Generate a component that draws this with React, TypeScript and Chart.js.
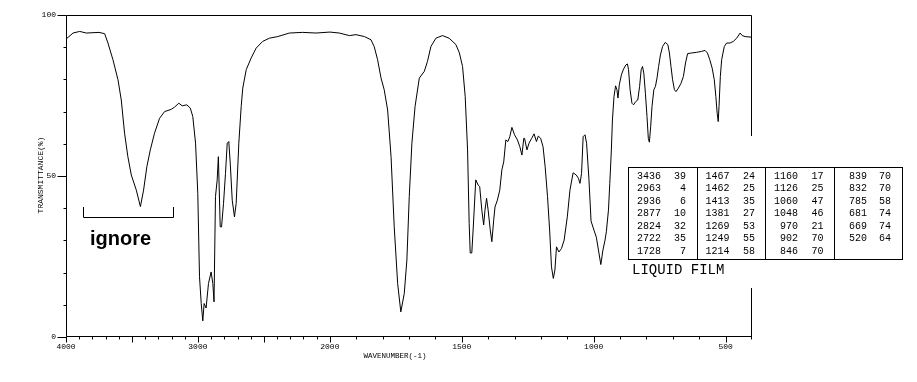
import React, { useEffect, useRef } from "react";
import { Chart, registerables } from "chart.js";

Chart.register(...registerables);

// ---- spectrum data (wavenumber cm-1, transmittance %) ----
const wavenumbers = [
  4000, 3947, 3896, 3846, 3750, 3707, 3682, 3644, 3606, 3581, 3556, 3531, 3505, 3467, 3436, 3412, 3387, 3361, 3329, 3291,
  3253, 3202, 3177, 3145, 3119, 3084, 3058, 3039, 3018, 3001, 2988, 2975, 2963, 2953, 2938, 2920, 2900, 2887, 2878, 2867,
  2854, 2845, 2831, 2821, 2806, 2791, 2778, 2766, 2755, 2740, 2723, 2710, 2690, 2672, 2660, 2634, 2597, 2559, 2509, 2458,
  2395, 2307, 2206, 2105, 2000, 1964, 1926, 1901, 1869, 1844, 1832, 1819, 1806, 1794, 1781, 1768, 1756, 1743, 1731, 1718,
  1708, 1699, 1689, 1677, 1661, 1642, 1630, 1617, 1598, 1573, 1548, 1522, 1509, 1497, 1487, 1478, 1472, 1468, 1462, 1457,
  1447, 1438, 1432, 1424, 1417, 1412, 1406, 1400, 1392, 1386, 1379, 1374, 1365, 1356, 1348, 1341, 1333, 1325, 1318, 1310,
  1300, 1289, 1280, 1272, 1265, 1262, 1253, 1245, 1235, 1226, 1217, 1210, 1201, 1192, 1184, 1175, 1167, 1160, 1153, 1147,
  1141, 1132, 1122, 1112, 1100, 1090, 1078, 1066, 1058, 1052, 1046, 1040, 1033, 1027, 1018, 1010, 999, 990, 982, 973,
  965, 957, 952, 944, 939, 933, 929, 923, 917, 912, 908, 903, 895, 887, 878, 872, 868, 862, 855, 849,
  841, 833, 826, 820, 815, 810, 804, 798, 793, 789, 784, 779, 772, 766, 760, 754, 747, 739, 729, 719,
  713, 707, 701, 694, 688, 679, 669, 660, 652, 644, 629, 610, 591, 578, 569, 560, 551, 543, 537, 532,
  528, 525, 520, 515, 505, 496, 483, 471, 458, 445, 437, 426, 400,
];
const transmittance = [
  92.5, 94.4, 94.9, 94.4, 94.6, 94.2, 91.3, 86.1, 79.9, 73.6, 63.3, 56.0, 50.3, 45.6, 40.5, 45.6, 52.9, 58.1, 63.3, 67.9,
  70.0, 70.7, 71.4, 72.6, 71.8, 72.1, 71.1, 68.5, 60.2, 44.6, 18.7, 10.4, 5.0, 10.4, 9.0, 16.6, 20.2, 16.6, 10.9, 43.6,
  48.8, 56.0, 34.2, 34.2, 41.5, 50.8, 60.2, 60.7, 54.0, 42.5, 37.3, 41.5, 60.2, 71.6, 77.3, 83.0, 86.6, 89.7, 91.8, 92.8,
  93.3, 94.4, 94.6, 94.4, 94.7, 94.4, 93.6, 93.9, 93.3, 92.3, 90.2, 86.1, 80.4, 76.8, 70.5, 56.0, 34.2, 16.6, 7.8, 13.5,
  23.9, 43.6, 60.2, 71.6, 80.4, 82.5, 85.6, 90.2, 92.8, 93.6, 92.8, 90.8, 88.2, 84.0, 74.7, 58.1, 35.3, 26.1, 26.1, 33.2,
  48.8, 47.2, 46.7, 39.4, 34.8, 39.4, 43.1, 39.4, 33.2, 29.6, 36.3, 40.4, 42.5, 45.6, 51.9, 54.4, 61.2, 60.7, 62.2, 65.1,
  62.8, 61.2, 59.1, 56.5, 61.7, 61.7, 58.1, 60.2, 61.7, 63.1, 60.7, 62.4, 61.7, 59.1, 52.9, 43.6, 33.2, 21.8, 18.2, 20.8,
  28.0, 26.4, 27.5, 30.1, 37.3, 45.6, 51.0, 50.3, 49.3, 47.7, 50.8, 62.2, 62.8, 60.2, 49.0, 36.0, 33.2, 31.0, 27.0, 22.5,
  27.0, 30.1, 32.7, 39.4, 47.7, 58.1, 67.4, 74.7, 78.0, 76.8, 74.2, 78.3, 81.4, 83.2, 84.5, 84.8, 83.0, 76.8, 72.6, 72.1,
  73.1, 73.6, 77.8, 83.0, 84.0, 81.9, 75.7, 68.5, 61.7, 60.5, 65.3, 71.6, 76.8, 77.8, 80.4, 84.0, 87.6, 90.2, 91.5, 90.8,
  88.2, 84.0, 79.9, 76.8, 76.2, 77.3, 78.8, 80.9, 85.1, 88.0, 88.2, 88.4, 88.7, 89.0, 88.2, 86.1, 83.5, 79.9, 74.7, 69.5,
  66.9, 71.6, 80.9, 86.1, 90.2, 91.3, 91.3, 91.8, 92.8, 94.4, 93.6, 93.3, 93.1,
];

// ---- axis labels ----
const xTickLabels = [4000, 3000, 2000, 1500, 1000, 500];
const yTickLabels = [0, 50, 100];
const xTitle = "WAVENUMBER(-1)";
const yTitle = "TRANSMITTANCE(%)";

// ---- peak table ----
const peakWavenumbers = [
  3436, 2963, 2936, 2877, 2824, 2722, 1728,
  1467, 1462, 1413, 1381, 1269, 1249, 1214,
  1160, 1126, 1060, 1048, 970, 902, 846,
  839, 832, 785, 681, 669, 520,
];
const peakTransmittance = [
  39, 4, 6, 10, 32, 35, 7,
  24, 25, 35, 27, 53, 55, 58,
  17, 25, 47, 46, 21, 70, 70,
  70, 70, 58, 74, 74, 64,
];
const sampleNote = "LIQUID FILM";
const annotationText = "ignore";

// 4000–2000 is drawn at half the scale of 2000–400
function toAxis(wn: number): number {
  return wn >= 2000 ? (4000 - wn) / 2 : 1000 + (2000 - wn);
}

const MONO = "'Liberation Mono', 'DejaVu Sans Mono', monospace";

const decorPlugin = {
  id: "irDecor",
  afterDraw(chart: any) {
    const ctx = chart.ctx as CanvasRenderingContext2D;
    const xs = chart.scales.x;
    const ys = chart.scales.y;
    const { left, right, top, bottom } = chart.chartArea;
    const L = left + 0.5, R = right - 0.5, T = top + 0.5, B = bottom - 0.5;
    ctx.save();
    ctx.strokeStyle = "#000";
    ctx.fillStyle = "#000";
    ctx.lineWidth = 1;

    // frame
    ctx.beginPath();
    ctx.moveTo(L, T); ctx.lineTo(R, T);
    ctx.moveTo(L, T); ctx.lineTo(L, B);
    ctx.moveTo(L, B); ctx.lineTo(R, B);
    ctx.moveTo(R, T); ctx.lineTo(R, 136);
    ctx.moveTo(R, 288); ctx.lineTo(R, B + 3);
    ctx.stroke();

    // x ticks every 100, long every 500
    ctx.beginPath();
    for (let wn = 4000; wn >= 500; wn -= 100) {
      const px = Math.round(xs.getPixelForValue(toAxis(wn))) + 0.5;
      const len = wn % 500 === 0 ? 6 : 3;
      ctx.moveTo(px, B); ctx.lineTo(px, B + len);
    }
    // y ticks every 10, long every 50
    for (let v = 0; v <= 100; v += 10) {
      const py = Math.round(ys.getPixelForValue(v)) + 0.5;
      const len = v % 50 === 0 ? 9 : 3;
      ctx.moveTo(L - len, py); ctx.lineTo(L, py);
    }
    ctx.stroke();

    // tick labels
    ctx.font = `8px ${MONO}`;
    ctx.textAlign = "center";
    ctx.textBaseline = "middle";
    xTickLabels.forEach((wn) => {
      ctx.fillText(String(wn), xs.getPixelForValue(toAxis(wn)), B + 10.5);
    });
    ctx.textAlign = "right";
    yTickLabels.forEach((v) => {
      ctx.fillText(String(v), L - 10.5, ys.getPixelForValue(v));
    });

    // axis titles
    ctx.font = `7.5px ${MONO}`;
    ctx.textAlign = "center";
    ctx.fillText(xTitle, 395, 356);
    ctx.save();
    ctx.translate(40.5, 175);
    ctx.rotate(-Math.PI / 2);
    ctx.font = `8px ${MONO}`;
    ctx.fillText(yTitle, 0, 0);
    ctx.restore();

    // "ignore" bracket
    ctx.beginPath();
    ctx.moveTo(83.5, 207); ctx.lineTo(83.5, 217.5); ctx.lineTo(173.5, 217.5); ctx.lineTo(173.5, 207);
    ctx.stroke();
    ctx.font = "bold 20px 'Liberation Sans', Arial, sans-serif";
    ctx.textAlign = "left";
    ctx.textBaseline = "alphabetic";
    ctx.fillText(annotationText, 90, 245);

    // peak table
    const bx = 628.5, by = 167.5, bw = 274, bh = 92;
    ctx.fillStyle = "#fff";
    ctx.fillRect(bx, by, bw, bh);
    ctx.fillStyle = "#000";
    ctx.strokeRect(bx, by, bw, bh);
    const dividers = [697.5, 765.5, 834.5];
    ctx.beginPath();
    dividers.forEach((dx) => { ctx.moveTo(dx, by); ctx.lineTo(dx, by + bh); });
    ctx.stroke();
    const wnRight = [661, 729.5, 798, 867];
    const tRight = [686, 755, 823.5, 891];
    ctx.font = `10px ${MONO}`;
    ctx.textAlign = "right";
    ctx.textBaseline = "middle";
    peakWavenumbers.forEach((wn, i) => {
      const col = Math.floor(i / 7);
      const row = i % 7;
      const ty = 176 + row * 12.5;
      ctx.fillText(String(wn), wnRight[col], ty);
      ctx.fillText(String(peakTransmittance[i]), tRight[col], ty);
    });
    ctx.font = `14px ${MONO}`;
    ctx.textAlign = "left";
    ctx.textBaseline = "alphabetic";
    ctx.fillText(sampleNote, 632, 273.5);

    ctx.restore();
  },
};

export default function App() {
  const canvasRef = useRef<HTMLCanvasElement | null>(null);

  useEffect(() => {
    const canvas = canvasRef.current;
    if (!canvas) return;
    const points = wavenumbers.map((wn, i) => ({ x: toAxis(wn), y: transmittance[i] }));
    const chart = new Chart(canvas, {
      type: "line",
      data: {
        datasets: [
          {
            data: points,
            borderColor: "#000",
            borderWidth: 1,
            pointRadius: 0,
            tension: 0,
            fill: false,
          },
        ],
      },
      options: {
        responsive: false,
        animation: false,
        devicePixelRatio: 1,
        layout: { padding: { left: 66, right: 165, top: 15, bottom: 45 } },
        scales: {
          x: { type: "linear", min: 0, max: 2600, display: false },
          y: { type: "linear", min: 0, max: 100, display: false },
        },
        plugins: { legend: { display: false }, tooltip: { enabled: false } },
      },
      plugins: [decorPlugin],
    });
    return () => chart.destroy();
  }, []);

  return (
    <div style={{ position: "fixed", left: 0, top: 0, width: 917, height: 382, background: "#fff" }}>
      <canvas ref={canvasRef} width={917} height={382} style={{ display: "block" }} />
    </div>
  );
}
